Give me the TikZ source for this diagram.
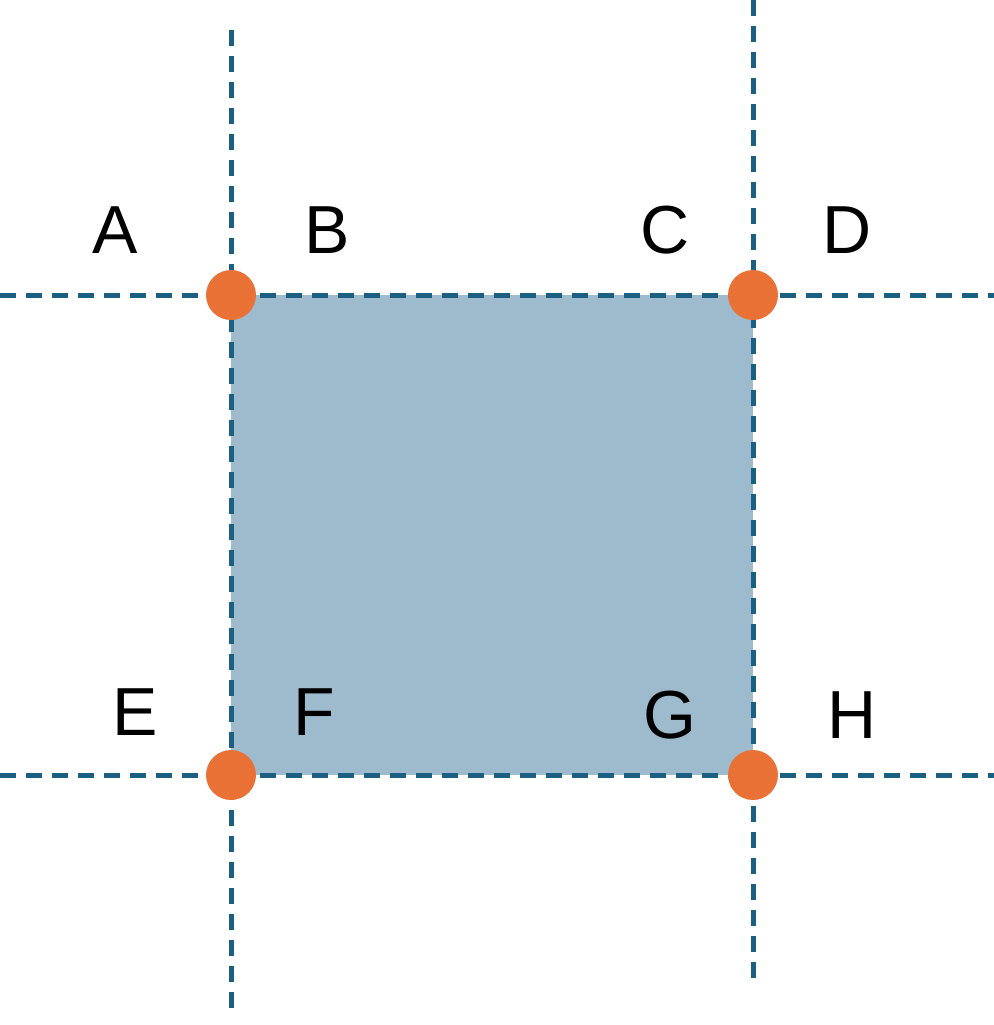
\documentclass[tikz,border=0pt]{standalone}
\usepackage{fontspec}
\setmainfont{Liberation Sans}
\definecolor{lineblue}{HTML}{1B5F82}
\definecolor{fillblue}{HTML}{9DBBCC}
\definecolor{dotorange}{HTML}{E97135}
\begin{document}
\begin{tikzpicture}[x=0.5pt,y=-0.5pt,
  grid/.style={draw=lineblue,line width=2.5pt,dash pattern=on 8pt off 5pt},
  dot/.style={circle,fill=dotorange,minimum size=25pt,inner sep=0pt},
  lbl/.style={font=\fontsize{34}{38}\selectfont,inner sep=0pt}]
\useasboundingbox (0,0) rectangle (994,1025);
\fill[fillblue] (231,295) rectangle (753,775);
\coordinate (v1t) at (231,30); \coordinate (v1b) at (231,1015);
\coordinate (v2t) at (753,0); \coordinate (v2b) at (753,985);
\coordinate (h1l) at (0,295); \coordinate (h1r) at (994,295);
\coordinate (h2l) at (0,775); \coordinate (h2r) at (994,775);
\draw[grid] (v1t) -- (v1b);
\draw[grid] (v2t) -- (v2b);
\draw[grid] (h1l) -- (h1r);
\draw[grid] (h2l) -- (h2r);
\node[dot] (p1) at (231,295) {};
\node[dot] (p2) at (753,295) {};
\node[dot] (p3) at (231,775) {};
\node[dot] (p4) at (753,775) {};
\node[lbl] (A) at (115,230) {A};
\node[lbl] (B) at (327,230) {B};
\node[lbl] (C) at (665,230) {C};
\node[lbl] (D) at (847,230) {D};
\node[lbl] (E) at (135,712) {E};
\node[lbl] (F) at (314,712) {F};
\node[lbl] (G) at (670,715) {G};
\node[lbl] (H) at (852,715) {H};
\end{tikzpicture}
\end{document}
